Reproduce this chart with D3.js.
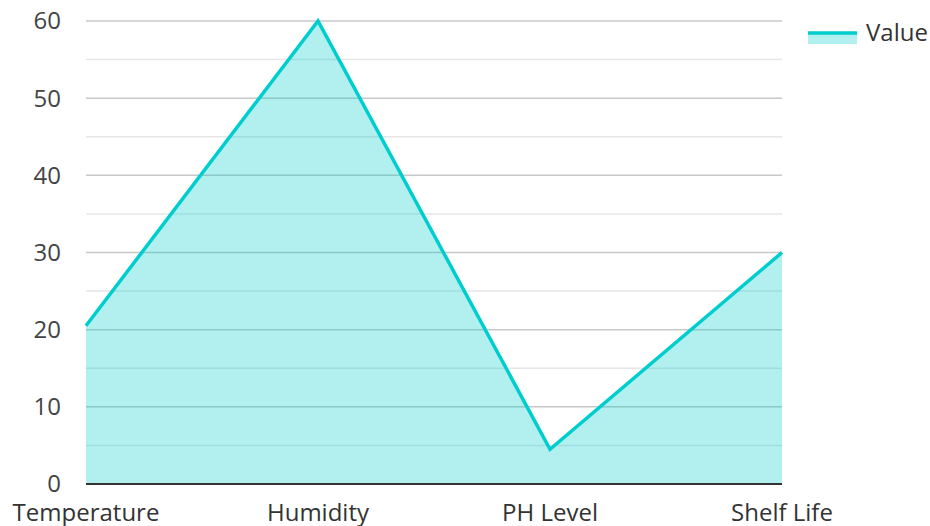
<!DOCTYPE html>
<html>
<head>
<meta charset="utf-8">
<script src="https://cdn.jsdelivr.net/npm/d3@7"></script>
<style>
  body { margin: 0; background: #fff; }
  text { font-family: "Open Sans", "Noto Sans", sans-serif; }
</style>
</head>
<body>
<svg id="chart" width="930" height="526"></svg>
<script>
const categories = ["Temperature", "Humidity", "PH Level", "Shelf Life"];
const values = [20.5, 60, 4.5, 30];
const yTicks = [0, 10, 20, 30, 40, 50, 60];
const yMinorTicks = [5, 15, 25, 35, 45, 55];
const seriesName = "Value";

const margin = {top: 21, right: 148, bottom: 42, left: 86};
const svg = d3.select("#chart");
const width = +svg.attr("width") - margin.left - margin.right;
const height = +svg.attr("height") - margin.top - margin.bottom;
const g = svg.append("g").attr("transform", `translate(${margin.left},${margin.top})`);

const x = d3.scalePoint().domain(categories).range([0, width]).padding(0);
const y = d3.scaleLinear().domain([0, 60]).range([height, 0]);

const lineColor = "#00cdcd";

// minor grid
g.selectAll(".minor").data(yMinorTicks).enter().append("line")
    .attr("x1", 0).attr("x2", width)
    .attr("y1", d => y(d)).attr("y2", d => y(d))
    .attr("stroke", "#e6e6e6").attr("stroke-width", 1.5);
// major grid
g.selectAll(".major").data(yTicks.filter(d => d > 0)).enter().append("line")
    .attr("x1", 0).attr("x2", width)
    .attr("y1", d => y(d)).attr("y2", d => y(d))
    .attr("stroke", "#c8c8c8").attr("stroke-width", 1.5);

const data = categories.map((c, i) => ({cat: c, v: values[i]}));

g.append("path").datum(data)
    .attr("d", d3.area().x(d => x(d.cat)).y0(y(0)).y1(d => y(d.v)))
    .attr("fill", lineColor).attr("fill-opacity", 0.3);

g.append("path").datum(data)
    .attr("d", d3.line().x(d => x(d.cat)).y(d => y(d.v)))
    .attr("fill", "none").attr("stroke", lineColor).attr("stroke-width", 3.5)
    .attr("stroke-linejoin", "miter");

// baseline
g.append("line").attr("x1", 0).attr("x2", width)
    .attr("y1", y(0)).attr("y2", y(0))
    .attr("stroke", "#333").attr("stroke-width", 2);

// y labels
g.selectAll(".ylab").data(yTicks).enter().append("text")
    .attr("x", -25).attr("y", d => y(d)).attr("dy", "0.35em")
    .attr("text-anchor", "end").attr("fill", "#444").style("font-size", "24px")
    .text(d => d);

// x labels
g.selectAll(".xlab").data(categories).enter().append("text")
    .attr("x", d => x(d)).attr("y", height + 37)
    .attr("text-anchor", "middle").attr("fill", "#333").style("font-size", "24px")
    .text(d => d);

// legend
const lg = svg.append("g").attr("transform", "translate(808,33)");
lg.append("rect").attr("x", 0).attr("y", 0).attr("width", 49).attr("height", 11)
    .attr("fill", lineColor).attr("fill-opacity", 0.3);
lg.append("line").attr("x1", 0).attr("x2", 49).attr("y1", 0).attr("y2", 0)
    .attr("stroke", lineColor).attr("stroke-width", 3.5);
lg.append("text").attr("x", 58).attr("y", 0).attr("dy", "0.35em")
    .attr("fill", "#333").style("font-size", "24px").text(seriesName);
</script>
</body>
</html>
